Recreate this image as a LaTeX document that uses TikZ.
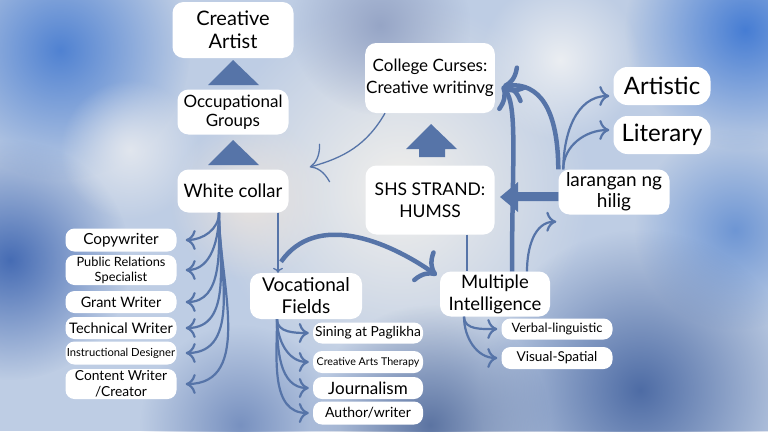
\documentclass[tikz,border=0pt]{standalone}
\usepackage{fontspec}
\setmainfont{Lato}
\usepackage{tikz}
\usetikzlibrary{arrows.meta,shapes,positioning,calc,fadings}
\definecolor{linkblue}{RGB}{86,116,168}
\definecolor{bgbase}{RGB}{190,205,228}
\tikzfading[name=soft blob, inner color=transparent!0, outer color=transparent!100]
\newcommand{\fs}[2]{\fontsize{#1}{#2}\selectfont}
\tikzset{
  mapnode/.style={fill=white, rounded corners=11pt, align=center, inner sep=1pt},
  leafnode/.style={fill=white, rounded corners=9pt, align=center, inner sep=1pt, minimum width=111pt},
  branch/.style={draw=linkblue, line width=2.2pt, -{Computer Modern Rightarrow[length=10pt,width=20pt]}},
  thinlink/.style={draw=linkblue, line width=1.3pt, -{Computer Modern Rightarrow[length=5pt,width=10pt]}},
  bigarrow/.style={draw=linkblue, line width=4.5pt, -{Computer Modern Rightarrow[length=18pt,width=38pt]}},
  blocktip/.style={fill=linkblue}
}

\begin{document}
\begin{tikzpicture}[x=1pt, y=-1pt]
  \useasboundingbox (0,0) rectangle (768,431);
  \fill[bgbase] (0,0) rectangle (768,431);
  \foreach \cx/\cy/\r/\cr/\cg/\cb in {60/50/130/80/130/210, 10/260/120/70/108/180,
      400/190/190/242/240/236, 380/25/90/150/165/198, 250/200/80/232/226/222,
      130/150/70/225/230/238, 745/30/120/70/125/212, 735/230/100/110/150/212,
      640/390/160/78/108/165, 430/425/120/92/116/162, 240/425/100/120/145/192,
      560/60/80/235/238/242}
    {\definecolor{blobc}{RGB}{\cr,\cg,\cb}
     \fill[blobc, path fading=soft blob] (\cx,\cy) circle (\r);}

  \node[mapnode, minimum width=121pt, minimum height=56pt, font=\fs{20}{23}] (ca) at (233,30) {Creative\\Artist};
  \node[mapnode, minimum width=111pt, minimum height=45pt, font=\fs{17}{19}] (og) at (233,112) {Occupational\\Groups};
  \node[mapnode, minimum width=111pt, minimum height=43pt, font=\fs{18.5}{22}] (wc) at (233,191) {White collar};
  \node[mapnode, minimum width=129pt, minimum height=70pt, font=\fs{17}{22}] (cc) at (430,78) {College Curses:\\Creative writinvg};
  \node[mapnode, minimum width=129pt, minimum height=69pt, font=\fs{17.5}{22}] (shs) at (430,200) {SHS STRAND:\\HUMSS};
  \node[mapnode, minimum width=111pt, minimum height=45pt, font=\fs{19}{21}] (lh) at (614,192) {larangan ng\\hilig};
  \node[mapnode, rounded corners=14pt, minimum width=97pt, minimum height=38pt, font=\fs{24}{26}] (art) at (662,86) {Artistic};
  \node[mapnode, rounded corners=14pt, minimum width=97pt, minimum height=38pt, font=\fs{24}{26}] (lit) at (662,135) {Literary};
  \node[mapnode, minimum width=112pt, minimum height=46pt, font=\fs{19}{22}] (vf) at (306,296) {Vocational\\Fields};
  \node[mapnode, minimum width=110pt, minimum height=45pt, font=\fs{18.5}{22}] (mi) at (495,294) {Multiple\\Intelligence};

  \node[leafnode, minimum height=23pt, font=\fs{15.3}{17}] (cw) at (121,240) {Copywriter};
  \node[leafnode, minimum height=30pt, font=\fs{12.8}{15}] (pr) at (121,270) {Public Relations\\Specialist};
  \node[leafnode, minimum height=22pt, font=\fs{14.4}{16}] (gw) at (121,302) {Grant Writer};
  \node[leafnode, minimum height=22pt, font=\fs{14.5}{16}] (tw) at (121,328) {Technical Writer};
  \node[leafnode, minimum height=23pt, font=\fs{11.2}{13}] (id) at (121,353) {Instructional Designer};
  \node[leafnode, minimum height=30pt, font=\fs{13.8}{16}] (cwc) at (121,384) {Content Writer\\/Creator};

  \node[leafnode, minimum width=110pt, minimum height=21pt, font=\fs{13.8}{16}] (sp) at (368,333) {Sining at Paglikha};
  \node[leafnode, minimum width=110pt, minimum height=22pt, font=\fs{10.7}{13}] (cat) at (368,362) {Creative Arts Therapy};
  \node[leafnode, minimum width=110pt, minimum height=22pt, font=\fs{17}{19}] (jo) at (368,388) {Journalism};
  \node[leafnode, minimum width=110pt, minimum height=23pt, font=\fs{14}{16}] (aw) at (368,413) {Author/writer};

  \node[leafnode, minimum height=21pt, font=\fs{12.9}{15}] (vl) at (557,329) {Verbal-linguistic};
  \node[leafnode, minimum height=22pt, font=\fs{13.6}{15}] (vs) at (557,358) {Visual-Spatial};

  % block arrows
  \fill[blocktip] (208,85) -- (233,60) -- (259,85) -- cycle;
  \fill[blocktip] (208,165) -- (233,140) -- (259,165) -- cycle;
  \fill[blocktip] (419,157) -- (419,149) -- (406,149) -- (431,124) -- (457,149) -- (445,149) -- (445,157) -- cycle;
  \fill[blocktip] (lh.west |- 0,192) -- (518,192) -- (518,182) -- (500,197) -- (518,212) -- (518,201) -- (lh.west |- 0,201) -- cycle;

  \foreach \leaf in {cw,pr,gw,tw,id,cwc}
    \draw[branch] ([shift={(-14,0)}]wc.south) to[out=-90,in=0] ([shift={(9,0)}]\leaf.east);
  \foreach \leaf in {sp,cat,jo,aw}
    \draw[branch] ([shift={(-29,0)}]vf.south) to[out=-90,in=180] ([shift={(-4,0)}]\leaf.west);
  \foreach \leaf in {vl,vs}
    \draw[branch] ([shift={(-31,0)}]mi.south) to[out=-90,in=180] ([shift={(-4,0)}]\leaf.west);

  \draw[thinlink] ([shift={(45,0)}]wc.south) -- ([shift={(-28,0)}]vf.north);
  \draw[thinlink, -{Computer Modern Rightarrow[length=16pt,width=40pt]}] ([shift={(-45,0)}]cc.south) to[out=-120,in=15] ([shift={(21,-24)}]wc.east);
  \draw[linkblue, line width=1.3pt] ([shift={(37,0)}]shs.south) -- ([shift={(-28,0)}]mi.north);

  \draw[bigarrow] ([shift={(-25,-11)}]vf.north) to[out=55,in=145] ([shift={(-3,4)}]mi.north west);
  \draw[bigarrow] ([shift={(17,0)}]mi.north) .. controls (512,160) and (518,105) .. ([shift={(7,8)}]cc.east);
  \draw[bigarrow] (lh.north west) .. controls (558,110) and (540,82) .. ([shift={(8,8)}]cc.east);

  \draw[branch] ([shift={(32,0)}]mi.north) to[out=90,in=180] ([shift={(-2,7)}]lh.south west);
  \draw[branch] ([shift={(5,0)}]lh.north west) to[out=90,in=180] ([shift={(-4,10)}]art.west);
  \draw[branch] ([shift={(5,0)}]lh.north west) to[out=90,in=180] ([shift={(-4,-5)}]lit.west);
\end{tikzpicture}
\end{document}
